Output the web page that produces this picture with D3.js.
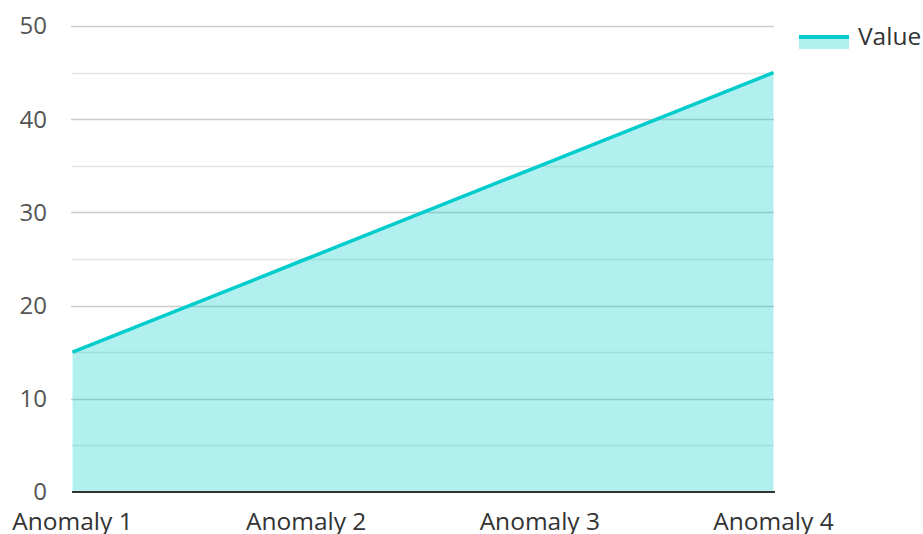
<!DOCTYPE html>
<html><head><meta charset="utf-8">
<script src="https://cdn.jsdelivr.net/npm/d3@7"></script>
<style>
html,body{margin:0;padding:0;background:#fff;}
svg{display:block;font-family:"Open Sans",sans-serif;}
</style></head>
<body><svg id="c" width="923" height="534"></svg>
<script>
const categories = ["Anomaly 1","Anomaly 2","Anomaly 3","Anomaly 4"];
const values = [15, 25, 35, 45];
const seriesName = "Value";
const yMajorTicks = [0,10,20,30,40,50];
const yMinorTicks = [5,15,25,35,45];

const color = "#00cccc";
const svg = d3.select("#c");
const x = d3.scalePoint().domain(categories).range([72.5, 773.5]);
const y = d3.scaleLinear().domain([0,50]).range([492, 26]);

// grid
svg.append("g").selectAll("line").data(yMinorTicks).join("line")
  .attr("x1",72).attr("x2",774).attr("y1",d=>Math.round(y(d))+0.5).attr("y2",d=>Math.round(y(d))+0.5)
  .attr("stroke","#e6e6e6").attr("stroke-width",1.5);
svg.append("g").selectAll("line").data(yMajorTicks.filter(d=>d>0)).join("line")
  .attr("x1",71).attr("x2",774).attr("y1",d=>Math.round(y(d))+0.5).attr("y2",d=>Math.round(y(d))+0.5)
  .attr("stroke","#cccccc").attr("stroke-width",1.5);

// area + line
const data = categories.map((c,i)=>({c, v:values[i]}));
svg.append("path").datum(data)
  .attr("d", d3.area().x(d=>x(d.c)).y0(y(0)).y1(d=>y(d.v)))
  .attr("fill",color).attr("fill-opacity",0.3);
svg.append("path").datum(data)
  .attr("d", d3.line().x(d=>x(d.c)).y(d=>y(d.v)))
  .attr("fill","none").attr("stroke",color).attr("stroke-width",3.5);

// axis line
svg.append("line").attr("x1",72).attr("x2",775).attr("y1",y(0)).attr("y2",y(0))
  .attr("stroke","#333").attr("stroke-width",2);

// y labels
svg.append("g").selectAll("text").data(yMajorTicks).join("text")
  .attr("x",47).attr("y",d=>y(d)).attr("dy","0.35em").attr("text-anchor","end")
  .attr("font-size",24).attr("fill","#555").text(d=>d);

// x labels
svg.append("g").selectAll("text").data(categories).join("text")
  .attr("x",d=>x(d)).attr("y",530).attr("text-anchor","middle")
  .attr("font-size",24.5).attr("fill","#333").text(d=>d);

// legend
const lg = svg.append("g");
lg.append("rect").attr("x",799).attr("y",37).attr("width",50).attr("height",12).attr("fill",color).attr("fill-opacity",0.3);
lg.append("line").attr("x1",799).attr("x2",849).attr("y1",37).attr("y2",37).attr("stroke",color).attr("stroke-width",4);
lg.append("text").attr("x",858).attr("y",45).attr("font-size",24.5).attr("fill","#333").text(seriesName);
</script></body></html>
